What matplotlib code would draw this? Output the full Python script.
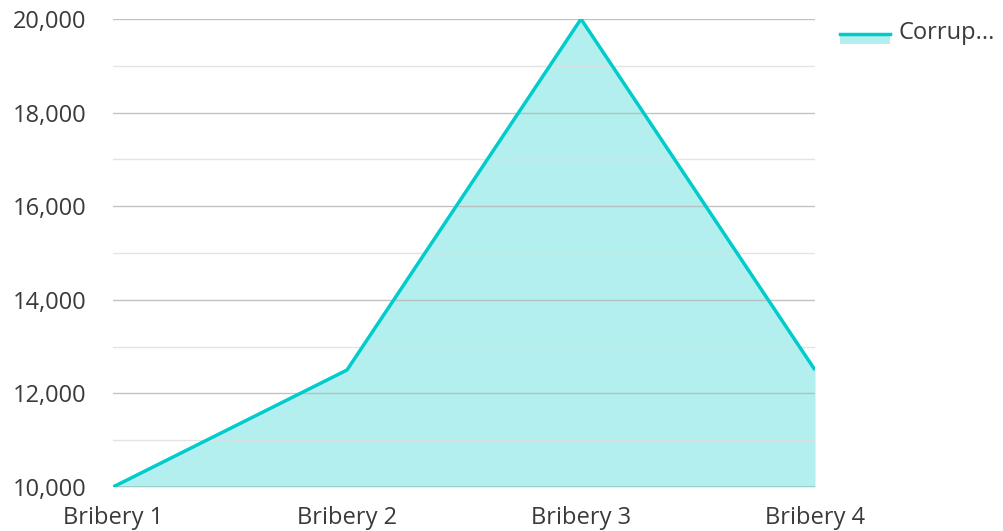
import matplotlib.pyplot as plt
from matplotlib.lines import Line2D
from matplotlib.patches import Rectangle
from matplotlib.ticker import MultipleLocator, FuncFormatter

plt.rcParams['font.family'] = ['Open Sans', 'DejaVu Sans']

categories = ['Bribery 1', 'Bribery 2', 'Bribery 3', 'Bribery 4']
values = [10000, 12500, 20000, 12500]
series_name = 'Corrup...'

line_color = '#00cccc'
fill_color = '#b2efee'
text_color = '#3a3a3a'

fig = plt.figure(figsize=(10.04, 5.31), dpi=100)
ax = fig.add_axes([113 / 1004, 1 - 487 / 531, 702 / 1004, 468 / 531])

x = list(range(len(categories)))
ax.fill_between(x, values, 10000, color=fill_color, lw=0, zorder=1)
ax.plot(x, values, color=line_color, lw=2.5, zorder=3, solid_capstyle='butt')

ax.set_xlim(0, len(categories) - 1)
ax.set_ylim(10000, 20000)
ax.yaxis.set_major_locator(MultipleLocator(2000))
ax.yaxis.set_minor_locator(MultipleLocator(1000))
ax.yaxis.set_major_formatter(FuncFormatter(lambda v, p: f'{int(v):,}'))
ax.set_xticks(x)
ax.set_xticklabels(categories)

ax.grid(True, axis='y', which='major', color='#b8b8b8', lw=1, alpha=0.85, zorder=2)
ax.grid(True, axis='y', which='minor', color='#e0e0e0', lw=1, alpha=0.85, zorder=2)
ax.set_axisbelow(False)
for s in ax.spines.values():
    s.set_visible(False)
ax.tick_params(axis='both', which='both', length=0, labelsize=17, colors=text_color)
ax.tick_params(axis='y', pad=19)
ax.tick_params(axis='x', pad=14)
ax.axhline(10000, color='#8fcfcc', lw=1.2, zorder=2)

# legend drawn by hand: line over a filled swatch
fig.add_artist(Rectangle((840 / 1004, 1 - 44 / 531), 50 / 1004, 10 / 531,
                         transform=fig.transFigure, color=fill_color, lw=0))
fig.add_artist(Line2D([840 / 1004, 890 / 1004], [1 - 34 / 531, 1 - 34 / 531],
                      transform=fig.transFigure, color=line_color, lw=2.5))
fig.text(899 / 1004, 1 - 33 / 531, series_name, fontsize=17, color=text_color,
         va='center', ha='left')

fig.savefig('out.png', dpi=100)
